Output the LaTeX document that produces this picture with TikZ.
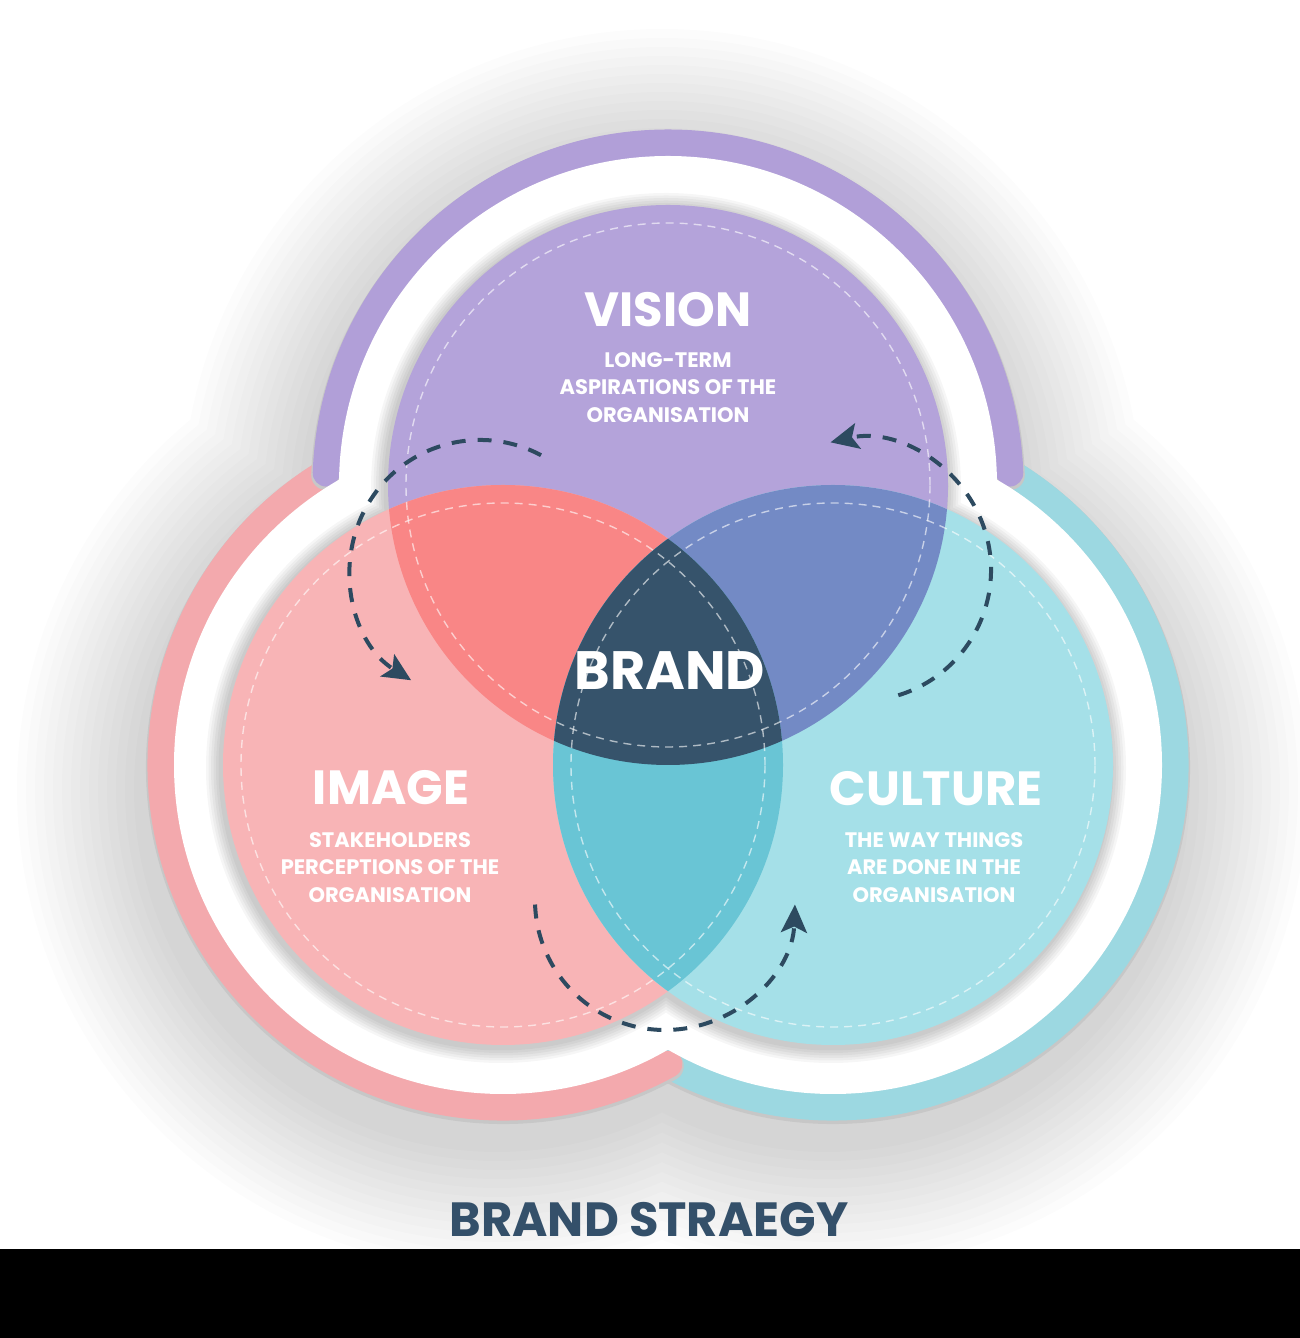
\documentclass[tikz,border=0pt]{standalone}
\usepackage{fontspec}
\setmainfont{Poppins}
\usetikzlibrary{arrows.meta, calc}
\definecolor{visband}{HTML}{B19FD8}
\definecolor{imgband}{HTML}{F3A9AD}
\definecolor{culband}{HTML}{9CD8E1}
\definecolor{visfill}{HTML}{B4A3DA}
\definecolor{imgfill}{HTML}{F8B4B6}
\definecolor{culfill}{HTML}{A5E0E8}
\definecolor{visimg}{HTML}{F98686}
\definecolor{viscul}{HTML}{738AC5}
\definecolor{imgcul}{HTML}{69C5D5}
\definecolor{core}{HTML}{36536B}
\definecolor{flowdark}{HTML}{2D4A60}
\definecolor{titleblue}{HTML}{34506A}

\begin{document}
\begin{tikzpicture}[x=0.5pt, y=0.5pt,
    band/.style={line width=13.5pt, line cap=round},
    bandedge/.style={line width=15pt, line cap=round, black!22},
    flow/.style={draw=flowdark, line width=2pt, dash pattern=on 7pt off 6pt,
        -{Stealth[length=14pt, width=13pt, inset=3pt]}},
    guide/.style={draw=white, draw opacity=0.6, line width=0.7pt, dash pattern=on 4pt off 3pt},
    head/.style={text=white, anchor=base, font=\fontsize{24}{28}\selectfont\bfseries},
    note/.style={text=white, anchor=north, inner sep=0pt, align=center,
        font=\fontsize{10.5}{13.75}\selectfont\bfseries}]

    \useasboundingbox (0,0) rectangle (1300,1338);
    \fill[white] (0,0) rectangle (1300,1338);

    \coordinate (vis) at (668,853);
    \coordinate (img) at (503,573);
    \coordinate (cul) at (833,573);

    % soft shadow round the whole shape
    \foreach \k in {1,...,14} {
        \pgfmathsetmacro\rr{354+9*\k}
        \fill[black, opacity=0.011] ($(vis)+(-6,-24)$) circle[radius=\rr]
            ($(img)+(-6,-24)$) circle[radius=\rr] ($(cul)+(-6,-24)$) circle[radius=\rr];
    }

    % outer bands
    \draw[bandedge] ($(cul)+(-120:342)+(0,-2)$) arc[start angle=-120, end angle=60, radius=342];
    \draw[band, culband] ($(cul)+(-120:342)$) arc[start angle=-120, end angle=60, radius=342];
    \draw[bandedge] ($(img)+(119:342)+(0,-2)$) arc[start angle=119, end angle=299, radius=342];
    \draw[band, imgband] ($(img)+(119:342)$) arc[start angle=119, end angle=299, radius=342];
    \draw[bandedge] ($(vis)+(2:342)+(0,-2)$) arc[start angle=2, end angle=178, radius=342];
    \draw[band, visband] ($(vis)+(2:342)$) arc[start angle=2, end angle=178, radius=342];

    % white ring
    \fill[white] (vis) circle[radius=329] (img) circle[radius=329] (cul) circle[radius=329];

    % shadow of the circles on the ring
    \foreach \k in {1,...,6} {
        \pgfmathsetmacro\rr{280+2.5*\k}
        \fill[black, opacity=0.035] ($(vis)+(-2,-3)$) circle[radius=\rr]
            ($(img)+(-2,-3)$) circle[radius=\rr] ($(cul)+(-2,-3)$) circle[radius=\rr];
    }

    % the three circles
    \fill[visfill] (vis) circle[radius=280];
    \fill[imgfill] (img) circle[radius=280];
    \fill[culfill] (cul) circle[radius=280];
    \begin{scope}
        \clip (vis) circle[radius=280];
        \fill[visimg] (img) circle[radius=280];
        \fill[viscul] (cul) circle[radius=280];
    \end{scope}
    \begin{scope}
        \clip (img) circle[radius=280];
        \fill[imgcul] (cul) circle[radius=280];
    \end{scope}
    \begin{scope}
        \clip (vis) circle[radius=280];
        \clip (img) circle[radius=280];
        \fill[core] (cul) circle[radius=280];
    \end{scope}

    \draw[guide] (vis) circle[radius=262];
    \draw[guide] (img) circle[radius=262];
    \draw[guide] (cul) circle[radius=262];

    % dashed flow arrows
    \coordinate (flowA) at (480,768);
    \coordinate (flowB) at (860,768);
    \coordinate (flowC) at (665,438);
    \draw[flow] ($(flowA)+(62:130)$) arc[start angle=62, end angle=238, radius=130];
    \draw[flow] ($(flowB)+(-73:131)$) arc[start angle=-73, end angle=103, radius=131];
    \draw[flow] ($(flowC)+(182:130)$) arc[start angle=182, end angle=358, radius=130];

    % labels
    \node[head] (vistitle) at (668,1011) {VISION};
    \node[note] (visnote) at (668,986) {LONG-TERM\\ASPIRATIONS OF THE\\ORGANISATION};
    \node[head] (imgtitle) at (391,533) {IMAGE};
    \node[note] (imgnote) at (390,506) {STAKEHOLDERS\\PERCEPTIONS OF THE\\ORGANISATION};
    \node[head] (cultitle) at (936,532) {CULTURE};
    \node[note] (culnote) at (934,506) {THE WAY THINGS\\ARE DONE IN THE\\ORGANISATION};
    \node[head, font=\fontsize{27}{32}\selectfont\bfseries] (brand) at (670,648) {BRAND};
    \node[anchor=base, text=titleblue, font=\fontsize{24}{28}\selectfont\bfseries] (title) at (649,101) {BRAND STRAEGY};

    \fill[black] (0,0) rectangle (1300,89);
\end{tikzpicture}
\end{document}
